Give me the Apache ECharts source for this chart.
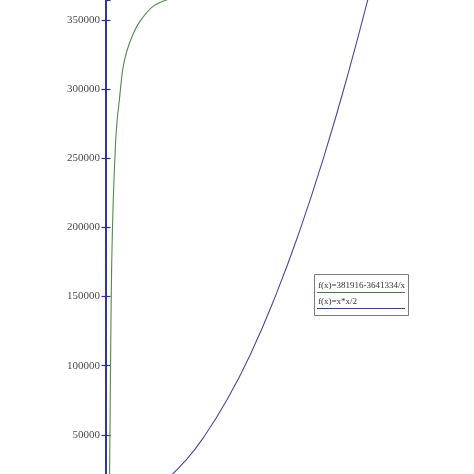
<!DOCTYPE html>
<html>
<head>
<meta charset="utf-8">
<script src="https://cdn.jsdelivr.net/npm/echarts@6/dist/echarts.min.js"></script>
<style>
  html, body { margin: 0; padding: 0; background: #fff; }
  #chart { width: 474px; height: 474px; }
</style>
</head>
<body>
<div id="chart"></div>
<script>
// values
const greenName = 'f(x)=381916-3641334/x';
const greenX = [11.5, 13, 15, 18.5, 24, 32, 37, 44, 55, 68, 90, 112, 156, 206];
const greenY = [15000, 50000, 100000, 170000, 220000, 263000, 278000, 292000, 314000, 327000, 340000, 349000, 360000, 365000];

const blueName = 'f(x)=x*x/2';
const blueX = [200, 260, 320, 400, 480, 560, 640, 720, 800, 880];
const blueY = [17700, 30800, 47500, 75500, 109800, 150700, 197900, 251600, 311700, 378300];

const yTicks = [0, 50000, 100000, 150000, 200000, 250000, 300000, 350000];

const xRange = [0, 1215];
const yRange = [0, 364474];

const chart = echarts.init(document.getElementById('chart'), null, { renderer: 'canvas' });

const zip = (xs, ys) => xs.map((x, i) => [x, ys[i]]);

const axisBlue = '#2a2ab4';
const gridBase = {
    left: 106, top: 0, width: 368, height: 504,
    containLabel: false,
    outerBoundsMode: 'none'
};
const xAxisBase = {
    type: 'value',
    min: xRange[0],
    max: xRange[1],
    show: false
};
const yAxisBase = {
    type: 'value',
    min: yRange[0],
    max: yRange[1],
    interval: yTicks[1] - yTicks[0],
    position: 'left',
    splitLine: { show: false },
    axisLine: {
        show: true,
        lineStyle: { color: axisBlue, width: 1.6 }
    }
};

// legend box drawn with graphic, texts taken from the series names
const legendRows = [
    { name: greenName, color: '#3f7f3f' },
    { name: blueName, color: '#3a3aa8' }
];
const legendGraphic = [{
    type: 'rect',
    left: 314,
    top: 274,
    shape: { width: 94, height: 41 },
    style: { fill: '#fff', stroke: '#7a7a7a', lineWidth: 1 }
}];
legendRows.forEach((row, i) => {
    legendGraphic.push({
        type: 'text',
        left: 318,
        top: 281 + i * 16,
        style: {
            text: row.name,
            fill: '#333',
            font: '9px "Liberation Serif", "DejaVu Serif", serif'
        }
    });
    legendGraphic.push({
        type: 'line',
        shape: { x1: 317, y1: 292.5 + i * 16, x2: 405, y2: 292.5 + i * 16 },
        style: { stroke: row.color, lineWidth: 1 }
    });
});

chart.setOption({
    animation: false,
    backgroundColor: '#fff',
    // second grid only carries the tick marks on the inner side of the axis
    grid: [{ ...gridBase }, { ...gridBase }],
    xAxis: [{ ...xAxisBase, gridIndex: 0 }, { ...xAxisBase, gridIndex: 1 }],
    yAxis: [{
        ...yAxisBase,
        gridIndex: 0,
        axisTick: { show: true, length: 4.5, lineStyle: { color: axisBlue, width: 1.2 } },
        axisLabel: {
            show: true,
            margin: 6,
            color: '#4a4a4a',
            fontSize: 11,
            fontFamily: '"Liberation Serif", "DejaVu Serif", serif',
            showMinLabel: false,
            showMaxLabel: false,
            formatter: (v) => yTicks.includes(v) ? String(v) : ''
        }
    }, {
        ...yAxisBase,
        gridIndex: 1,
        axisTick: { show: true, inside: true, length: 4.5, lineStyle: { color: axisBlue, width: 1.2 } },
        axisLabel: { show: false }
    }],
    graphic: legendGraphic,
    series: [{
        name: greenName,
        type: 'line',
        data: zip(greenX, greenY),
        smooth: 0.3,
        showSymbol: false,
        lineStyle: { color: '#4f8a4f', width: 1.1 }
    }, {
        name: blueName,
        type: 'line',
        data: zip(blueX, blueY),
        smooth: true,
        showSymbol: false,
        lineStyle: { color: '#4a4aa0', width: 1.1 }
    }]
});
</script>
</body>
</html>
